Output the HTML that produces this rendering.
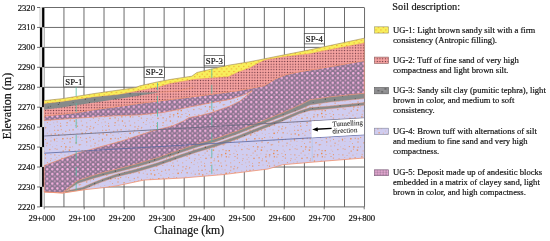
<!DOCTYPE html>
<html><head><meta charset="utf-8"><title>Soil profile</title>
<style>html,body{margin:0;padding:0;background:#fff}svg{display:block}text{stroke:#111;stroke-width:0.18px}</style></head>
<body>
<svg width="550" height="241" viewBox="0 0 550 241" font-family="'Liberation Serif', serif">
<defs>
<pattern id="pUG2" width="2.72" height="2.72" patternUnits="userSpaceOnUse" x="0.5" y="0.3">
 <rect width="2.72" height="2.72" fill="#f8a4a2"/>
 <rect x="0.8" y="0.8" width="1.15" height="1.15" fill="#6a3540"/>
</pattern>
<pattern id="pUG5" width="5.1" height="4.8" patternUnits="userSpaceOnUse">
 <rect width="5.1" height="4.8" fill="#8b7590"/>
 <ellipse cx="1.28" cy="1.2" rx="1.1" ry="1.35" fill="#f9b2e2"/>
 <ellipse cx="3.83" cy="3.6" rx="0.9" ry="1.05" fill="#e2a2ce"/>
</pattern>
<pattern id="pUG5s" width="2.9" height="2.6" patternUnits="userSpaceOnUse" x="374.6" y="169.9">
 <rect width="2.9" height="2.6" fill="#a87f9f"/>
 <ellipse cx="1.45" cy="1.3" rx="1.05" ry="1.0" fill="#f6b4e0"/>
</pattern>
<pattern id="pUG3s" width="14" height="6.3" patternUnits="userSpaceOnUse" x="374.5" y="87.5">
 <rect width="14" height="6.3" fill="#8e8e90"/>
 <rect x="3.4" y="2.8" width="1" height="1" fill="#1a1a1a"/><rect x="7.2" y="3.9" width="1" height="1" fill="#1a1a1a"/><rect x="10.4" y="1" width="1.1" height="1" fill="#1a1a1a"/>
 <rect x="5" y="1.2" width="2.5" height="0.6" fill="#a6a6a8"/><rect x="9" y="3.2" width="2.6" height="0.6" fill="#a6a6a8"/>
</pattern>
<pattern id="pUG4" width="48" height="40" patternUnits="userSpaceOnUse">
 <rect width="48" height="40" fill="#d0cdf0"/>
 <rect x="2.0" y="0.2" width="0.91" height="0.91" fill="#e98a50" fill-opacity="0.70"/><rect x="1.6" y="4.1" width="0.84" height="0.84" fill="#e98a50" fill-opacity="0.63"/><rect x="1.3" y="10.6" width="0.86" height="0.86" fill="#e98a50" fill-opacity="0.43"/><rect x="2.6" y="13.6" width="1.24" height="1.24" fill="#e98a50" fill-opacity="0.61"/><rect x="2.7" y="16.9" width="0.83" height="0.83" fill="#e98a50" fill-opacity="0.44"/><rect x="2.4" y="20.5" width="1.02" height="1.02" fill="#e98a50" fill-opacity="0.73"/><rect x="1.6" y="24.2" width="1.06" height="1.06" fill="#e98a50" fill-opacity="0.39"/><rect x="1.2" y="28.9" width="1.28" height="1.28" fill="#e98a50" fill-opacity="0.73"/><rect x="2.4" y="34.1" width="1.01" height="1.01" fill="#e98a50" fill-opacity="0.51"/><rect x="2.5" y="38.1" width="1.17" height="1.17" fill="#e98a50" fill-opacity="0.54"/><rect x="5.3" y="2.4" width="0.88" height="0.88" fill="#e98a50" fill-opacity="0.45"/><rect x="6.1" y="6.4" width="0.83" height="0.83" fill="#e98a50" fill-opacity="0.72"/><rect x="6.1" y="9.8" width="1.02" height="1.02" fill="#e98a50" fill-opacity="0.73"/><rect x="6.5" y="13.2" width="1.39" height="1.39" fill="#e98a50" fill-opacity="0.78"/><rect x="5.8" y="18.7" width="1.29" height="1.29" fill="#e98a50" fill-opacity="0.88"/><rect x="6.0" y="20.1" width="1.07" height="1.07" fill="#e98a50" fill-opacity="0.65"/><rect x="4.2" y="26.4" width="0.88" height="0.88" fill="#e98a50" fill-opacity="0.43"/><rect x="6.6" y="28.2" width="1.07" height="1.07" fill="#e98a50" fill-opacity="0.64"/><rect x="6.1" y="34.2" width="1.42" height="1.42" fill="#e98a50" fill-opacity="0.53"/><rect x="6.6" y="38.8" width="1.05" height="1.05" fill="#e98a50" fill-opacity="0.45"/><rect x="8.7" y="1.5" width="0.96" height="0.96" fill="#e98a50" fill-opacity="0.73"/><rect x="9.3" y="5.2" width="0.80" height="0.80" fill="#e98a50" fill-opacity="0.72"/><rect x="9.4" y="9.7" width="1.28" height="1.28" fill="#e98a50" fill-opacity="0.79"/><rect x="10.0" y="14.2" width="1.43" height="1.43" fill="#e98a50" fill-opacity="0.87"/><rect x="8.3" y="17.9" width="1.08" height="1.08" fill="#e98a50" fill-opacity="0.39"/><rect x="8.5" y="21.0" width="0.95" height="0.95" fill="#e98a50" fill-opacity="0.38"/><rect x="8.3" y="25.1" width="0.91" height="0.91" fill="#e98a50" fill-opacity="0.37"/><rect x="8.4" y="28.7" width="1.23" height="1.23" fill="#e98a50" fill-opacity="0.58"/><rect x="10.6" y="35.1" width="0.89" height="0.89" fill="#e98a50" fill-opacity="0.65"/><rect x="8.3" y="37.1" width="0.86" height="0.86" fill="#e98a50" fill-opacity="0.52"/><rect x="12.1" y="2.9" width="0.91" height="0.91" fill="#e98a50" fill-opacity="0.69"/><rect x="12.1" y="5.5" width="1.18" height="1.18" fill="#e98a50" fill-opacity="0.99"/><rect x="12.7" y="9.0" width="1.29" height="1.29" fill="#e98a50" fill-opacity="0.46"/><rect x="14.2" y="12.9" width="1.17" height="1.17" fill="#e98a50" fill-opacity="0.49"/><rect x="14.1" y="18.0" width="1.49" height="1.49" fill="#e98a50" fill-opacity="0.88"/><rect x="13.6" y="21.1" width="0.96" height="0.96" fill="#e98a50" fill-opacity="0.37"/><rect x="12.8" y="26.1" width="1.00" height="1.00" fill="#e98a50" fill-opacity="0.97"/><rect x="14.5" y="30.4" width="1.46" height="1.46" fill="#e98a50" fill-opacity="0.59"/><rect x="12.6" y="32.6" width="0.96" height="0.96" fill="#e98a50" fill-opacity="0.76"/><rect x="13.3" y="37.7" width="1.39" height="1.39" fill="#e98a50" fill-opacity="0.87"/><rect x="18.5" y="2.1" width="1.26" height="1.26" fill="#e98a50" fill-opacity="0.84"/><rect x="18.4" y="5.0" width="0.92" height="0.92" fill="#e98a50" fill-opacity="0.87"/><rect x="17.2" y="10.8" width="1.08" height="1.08" fill="#e98a50" fill-opacity="0.82"/><rect x="16.5" y="14.8" width="0.89" height="0.89" fill="#e98a50" fill-opacity="0.87"/><rect x="18.6" y="17.7" width="1.38" height="1.38" fill="#e98a50" fill-opacity="0.58"/><rect x="16.0" y="23.0" width="0.89" height="0.89" fill="#e98a50" fill-opacity="0.77"/><rect x="17.1" y="26.2" width="1.45" height="1.45" fill="#e98a50" fill-opacity="0.89"/><rect x="16.9" y="28.7" width="0.98" height="0.98" fill="#e98a50" fill-opacity="0.73"/><rect x="16.4" y="34.6" width="1.09" height="1.09" fill="#e98a50" fill-opacity="0.58"/><rect x="18.5" y="37.2" width="1.21" height="1.21" fill="#e98a50" fill-opacity="0.95"/><rect x="21.5" y="0.1" width="1.17" height="1.17" fill="#e98a50" fill-opacity="0.64"/><rect x="22.6" y="4.6" width="0.80" height="0.80" fill="#e98a50" fill-opacity="0.66"/><rect x="20.9" y="9.5" width="1.19" height="1.19" fill="#e98a50" fill-opacity="0.71"/><rect x="21.8" y="12.8" width="0.87" height="0.87" fill="#e98a50" fill-opacity="0.53"/><rect x="21.6" y="18.2" width="1.16" height="1.16" fill="#e98a50" fill-opacity="0.94"/><rect x="21.4" y="21.4" width="1.23" height="1.23" fill="#e98a50" fill-opacity="0.80"/><rect x="21.4" y="26.7" width="1.17" height="1.17" fill="#e98a50" fill-opacity="0.80"/><rect x="20.7" y="29.4" width="1.46" height="1.46" fill="#e98a50" fill-opacity="0.96"/><rect x="20.4" y="33.4" width="0.90" height="0.90" fill="#e98a50" fill-opacity="0.40"/><rect x="22.1" y="38.5" width="0.85" height="0.85" fill="#e98a50" fill-opacity="0.93"/><rect x="25.8" y="0.4" width="1.30" height="1.30" fill="#e98a50" fill-opacity="0.92"/><rect x="26.9" y="5.2" width="0.95" height="0.95" fill="#e98a50" fill-opacity="0.67"/><rect x="24.4" y="9.1" width="1.38" height="1.38" fill="#e98a50" fill-opacity="0.69"/><rect x="25.0" y="14.2" width="0.94" height="0.94" fill="#e98a50" fill-opacity="0.36"/><rect x="24.1" y="17.0" width="1.11" height="1.11" fill="#e98a50" fill-opacity="0.76"/><rect x="27.1" y="22.5" width="0.85" height="0.85" fill="#e98a50" fill-opacity="0.98"/><rect x="24.1" y="26.3" width="0.99" height="0.99" fill="#e98a50" fill-opacity="0.53"/><rect x="26.6" y="30.4" width="1.10" height="1.10" fill="#e98a50" fill-opacity="0.52"/><rect x="25.5" y="33.8" width="1.44" height="1.44" fill="#e98a50" fill-opacity="0.41"/><rect x="25.2" y="36.2" width="1.28" height="1.28" fill="#e98a50" fill-opacity="0.96"/><rect x="28.2" y="2.3" width="1.36" height="1.36" fill="#e98a50" fill-opacity="0.39"/><rect x="29.0" y="5.6" width="1.12" height="1.12" fill="#e98a50" fill-opacity="0.95"/><rect x="29.6" y="8.7" width="0.89" height="0.89" fill="#e98a50" fill-opacity="0.42"/><rect x="28.6" y="13.0" width="0.84" height="0.84" fill="#e98a50" fill-opacity="0.55"/><rect x="29.5" y="16.5" width="1.00" height="1.00" fill="#e98a50" fill-opacity="0.58"/><rect x="28.0" y="22.2" width="0.98" height="0.98" fill="#e98a50" fill-opacity="0.71"/><rect x="30.7" y="24.3" width="1.13" height="1.13" fill="#e98a50" fill-opacity="0.88"/><rect x="30.4" y="29.1" width="1.15" height="1.15" fill="#e98a50" fill-opacity="0.68"/><rect x="28.9" y="34.1" width="1.49" height="1.49" fill="#e98a50" fill-opacity="0.81"/><rect x="29.0" y="36.2" width="1.08" height="1.08" fill="#e98a50" fill-opacity="0.43"/><rect x="32.7" y="0.4" width="1.32" height="1.32" fill="#e98a50" fill-opacity="0.40"/><rect x="33.7" y="4.7" width="1.41" height="1.41" fill="#e98a50" fill-opacity="0.51"/><rect x="32.5" y="9.3" width="1.12" height="1.12" fill="#e98a50" fill-opacity="0.52"/><rect x="33.4" y="12.6" width="1.48" height="1.48" fill="#e98a50" fill-opacity="0.98"/><rect x="32.0" y="17.1" width="1.05" height="1.05" fill="#e98a50" fill-opacity="0.66"/><rect x="33.5" y="20.0" width="0.94" height="0.94" fill="#e98a50" fill-opacity="0.52"/><rect x="32.1" y="24.1" width="1.08" height="1.08" fill="#e98a50" fill-opacity="0.55"/><rect x="33.5" y="30.1" width="1.21" height="1.21" fill="#e98a50" fill-opacity="0.78"/><rect x="33.0" y="32.8" width="1.42" height="1.42" fill="#e98a50" fill-opacity="0.99"/><rect x="33.7" y="36.1" width="1.31" height="1.31" fill="#e98a50" fill-opacity="0.89"/><rect x="38.0" y="2.2" width="1.24" height="1.24" fill="#e98a50" fill-opacity="0.44"/><rect x="38.4" y="6.3" width="1.15" height="1.15" fill="#e98a50" fill-opacity="0.89"/><rect x="37.8" y="9.8" width="1.42" height="1.42" fill="#e98a50" fill-opacity="0.50"/><rect x="37.1" y="12.3" width="0.89" height="0.89" fill="#e98a50" fill-opacity="0.89"/><rect x="37.7" y="17.9" width="1.24" height="1.24" fill="#e98a50" fill-opacity="0.67"/><rect x="38.0" y="21.3" width="1.36" height="1.36" fill="#e98a50" fill-opacity="0.70"/><rect x="38.3" y="24.8" width="0.85" height="0.85" fill="#e98a50" fill-opacity="0.40"/><rect x="36.6" y="30.0" width="1.31" height="1.31" fill="#e98a50" fill-opacity="0.98"/><rect x="37.4" y="34.0" width="1.07" height="1.07" fill="#e98a50" fill-opacity="0.85"/><rect x="36.2" y="36.4" width="1.25" height="1.25" fill="#e98a50" fill-opacity="0.52"/><rect x="41.7" y="0.0" width="1.01" height="1.01" fill="#e98a50" fill-opacity="0.39"/><rect x="41.9" y="5.8" width="1.27" height="1.27" fill="#e98a50" fill-opacity="0.54"/><rect x="41.3" y="8.3" width="1.13" height="1.13" fill="#e98a50" fill-opacity="0.93"/><rect x="42.4" y="12.0" width="1.48" height="1.48" fill="#e98a50" fill-opacity="0.65"/><rect x="41.1" y="16.7" width="1.48" height="1.48" fill="#e98a50" fill-opacity="0.49"/><rect x="41.8" y="20.4" width="0.95" height="0.95" fill="#e98a50" fill-opacity="0.69"/><rect x="42.5" y="25.6" width="0.89" height="0.89" fill="#e98a50" fill-opacity="0.93"/><rect x="42.7" y="29.5" width="0.96" height="0.96" fill="#e98a50" fill-opacity="0.37"/><rect x="41.3" y="32.9" width="1.14" height="1.14" fill="#e98a50" fill-opacity="0.44"/><rect x="42.5" y="36.0" width="1.02" height="1.02" fill="#e98a50" fill-opacity="0.84"/><rect x="46.9" y="2.2" width="0.88" height="0.88" fill="#e98a50" fill-opacity="0.94"/><rect x="45.2" y="6.9" width="1.06" height="1.06" fill="#e98a50" fill-opacity="0.73"/><rect x="44.8" y="8.1" width="1.10" height="1.10" fill="#e98a50" fill-opacity="0.42"/><rect x="46.8" y="12.7" width="1.00" height="1.00" fill="#e98a50" fill-opacity="0.52"/><rect x="45.1" y="18.9" width="0.93" height="0.93" fill="#e98a50" fill-opacity="0.92"/><rect x="46.5" y="22.6" width="1.24" height="1.24" fill="#e98a50" fill-opacity="0.71"/><rect x="46.3" y="25.4" width="0.83" height="0.83" fill="#e98a50" fill-opacity="0.84"/><rect x="44.1" y="30.8" width="1.00" height="1.00" fill="#e98a50" fill-opacity="0.43"/><rect x="44.9" y="34.2" width="1.04" height="1.04" fill="#e98a50" fill-opacity="0.98"/><rect x="44.8" y="37.5" width="1.26" height="1.26" fill="#e98a50" fill-opacity="0.61"/>
</pattern>
<pattern id="pUG3" width="30" height="12" patternUnits="userSpaceOnUse">
 <rect width="30" height="12" fill="#868a8a"/>
 <rect x="4.4" y="2.9" width="0.80" height="0.80" fill="#222" fill-opacity="1.00"/><rect x="4.3" y="4.3" width="0.66" height="0.66" fill="#222" fill-opacity="0.67"/><rect x="9.6" y="9.3" width="0.95" height="0.95" fill="#222" fill-opacity="0.71"/><rect x="12.3" y="0.2" width="0.75" height="0.75" fill="#222" fill-opacity="0.64"/><rect x="12.8" y="6.1" width="0.65" height="0.65" fill="#222" fill-opacity="0.93"/><rect x="17.8" y="10.7" width="0.78" height="0.78" fill="#222" fill-opacity="0.94"/><rect x="20.1" y="9.8" width="0.96" height="0.96" fill="#222" fill-opacity="0.50"/><rect x="24.8" y="2.6" width="0.97" height="0.97" fill="#222" fill-opacity="0.99"/><rect x="29.0" y="6.3" width="0.87" height="0.87" fill="#222" fill-opacity="0.82"/><rect x="27.9" y="8.1" width="0.78" height="0.78" fill="#222" fill-opacity="0.89"/>
</pattern>
<pattern id="pUG1" width="4.9" height="5.2" patternUnits="userSpaceOnUse">
 <rect width="4.9" height="5.2" fill="#f8f05c"/>
 <rect x="0.7" y="0.8" width="1.1" height="1.1" fill="#f0942a"/>
 <rect x="3.15" y="3.4" width="1.1" height="1.1" fill="#f0942a"/>
</pattern>
</defs>
<rect width="550" height="241" fill="#fff"/>
<path d="M43.90 7.5 V206.9 M63.94 7.5 V206.9 M83.98 7.5 V206.9 M104.02 7.5 V206.9 M124.06 7.5 V206.9 M144.10 7.5 V206.9 M164.14 7.5 V206.9 M184.18 7.5 V206.9 M204.22 7.5 V206.9 M224.26 7.5 V206.9 M244.30 7.5 V206.9 M264.34 7.5 V206.9 M284.38 7.5 V206.9 M304.42 7.5 V206.9 M324.46 7.5 V206.9 M344.50 7.5 V206.9 M364.54 7.5 V206.9 M44.2 7.50 H364.2 M44.2 27.44 H364.2 M44.2 47.38 H364.2 M44.2 67.32 H364.2 M44.2 87.26 H364.2 M44.2 107.20 H364.2 M44.2 127.14 H364.2 M44.2 147.08 H364.2 M44.2 167.02 H364.2 M44.2 186.96 H364.2 M44.2 206.90 H364.2" stroke="#505050" stroke-width="0.85" fill="none"/>
<rect x="39.9" y="7.50" width="2.2" height="19.94" fill="#e4e4e4" stroke="#999" stroke-width="0.3"/>
<rect x="42.1" y="7.50" width="2.1" height="19.94" fill="#000"/>
<rect x="42.1" y="27.44" width="2.1" height="19.94" fill="#e4e4e4" stroke="#999" stroke-width="0.3"/>
<rect x="39.9" y="27.44" width="2.2" height="19.94" fill="#000"/>
<rect x="39.9" y="47.38" width="2.2" height="19.94" fill="#e4e4e4" stroke="#999" stroke-width="0.3"/>
<rect x="42.1" y="47.38" width="2.1" height="19.94" fill="#000"/>
<rect x="42.1" y="67.32" width="2.1" height="19.94" fill="#e4e4e4" stroke="#999" stroke-width="0.3"/>
<rect x="39.9" y="67.32" width="2.2" height="19.94" fill="#000"/>
<rect x="39.9" y="87.26" width="2.2" height="19.94" fill="#e4e4e4" stroke="#999" stroke-width="0.3"/>
<rect x="42.1" y="87.26" width="2.1" height="19.94" fill="#000"/>
<rect x="42.1" y="107.20" width="2.1" height="19.94" fill="#e4e4e4" stroke="#999" stroke-width="0.3"/>
<rect x="39.9" y="107.20" width="2.2" height="19.94" fill="#000"/>
<rect x="39.9" y="127.14" width="2.2" height="19.94" fill="#e4e4e4" stroke="#999" stroke-width="0.3"/>
<rect x="42.1" y="127.14" width="2.1" height="19.94" fill="#000"/>
<rect x="42.1" y="147.08" width="2.1" height="19.94" fill="#e4e4e4" stroke="#999" stroke-width="0.3"/>
<rect x="39.9" y="147.08" width="2.2" height="19.94" fill="#000"/>
<rect x="39.9" y="167.02" width="2.2" height="19.94" fill="#e4e4e4" stroke="#999" stroke-width="0.3"/>
<rect x="42.1" y="167.02" width="2.1" height="19.94" fill="#000"/>
<rect x="42.1" y="186.96" width="2.1" height="19.94" fill="#e4e4e4" stroke="#999" stroke-width="0.3"/>
<rect x="39.9" y="186.96" width="2.2" height="19.94" fill="#000"/>
<path d="M37 7.50 H40 M37 27.44 H40 M37 47.38 H40 M37 67.32 H40 M37 87.26 H40 M37 107.20 H40 M37 127.14 H40 M37 147.08 H40 M37 167.02 H40 M37 186.96 H40 M37 206.90 H40 M44.2 206.9 V209.3 M84.2 206.9 V209.3 M124.2 206.9 V209.3 M164.2 206.9 V209.3 M204.2 206.9 V209.3 M244.2 206.9 V209.3 M284.2 206.9 V209.3 M324.2 206.9 V209.3 M364.2 206.9 V209.3" stroke="#333" stroke-width="0.7" fill="none"/>
<polygon points="44.2,100.6 62.0,98.7 76.0,96.5 94.5,93.5 117.8,90.2 130.0,88.4 136.0,87.5 140.0,85.8 157.5,81.9 170.0,79.5 191.8,76.2 196.9,72.5 212.2,68.9 228.2,65.3 250.0,61.7 286.0,54.5 310.0,49.8 364.2,38.2 364.2,158.0 326.0,161.0 282.7,164.7 268.0,169.0 224.0,174.5 182.6,178.0 144.2,180.0 116.0,186.0 104.5,187.5 84.0,189.8 63.0,193.0 44.2,192.0" fill="url(#pUG4)"/>
<polygon points="44.2,116.0 62.0,114.2 76.0,112.6 100.0,108.7 120.0,106.2 140.0,103.2 160.0,100.8 180.0,98.3 196.0,96.3 237.5,90.7 264.5,85.6 276.0,78.5 286.0,74.6 300.0,71.6 317.5,68.8 364.2,60.6 364.2,93.4 330.0,97.0 310.0,100.0 300.0,105.0 280.0,114.0 258.2,122.8 237.5,131.0 216.7,138.4 196.0,144.5 178.0,150.6 157.5,157.8 136.7,164.0 116.0,169.5 105.7,172.0 92.5,175.8 77.6,180.7 63.0,192.5 63.0,193.0 44.2,192.0 44.2,165.5 77.5,153.0 100.0,146.9 121.8,140.9 143.6,133.8 150.9,131.3 161.8,128.5 172.7,125.8 183.6,120.9 189.0,117.6 200.0,115.6 210.0,113.0 230.0,106.0 240.0,101.0 252.0,91.3 252.0,90.7 244.0,95.0 230.0,99.4 210.0,103.0 190.0,107.0 176.0,110.0 161.8,112.7 140.0,114.9 116.0,115.8 80.0,118.0 44.2,120.5" fill="url(#pUG5)" stroke="#f0916e" stroke-width="0.7"/>
<polygon points="44.2,103.4 62.0,101.6 76.0,99.4 94.5,96.8 117.8,94.6 130.0,92.3 140.0,90.3 157.5,87.0 170.0,83.3 194.7,79.1 213.6,77.6 228.2,76.6 238.4,71.8 250.0,67.5 258.0,63.0 265.0,59.8 284.0,56.4 310.0,53.4 320.0,51.3 364.2,42.8 364.2,60.6 317.5,68.8 300.0,71.6 286.0,74.6 276.0,78.5 264.5,85.6 237.5,90.7 196.0,96.3 180.0,98.3 160.0,100.8 140.0,103.2 120.0,106.2 100.0,108.7 76.0,112.6 62.0,114.2 44.2,116.0" fill="url(#pUG2)" stroke="#f0916e" stroke-width="0.6"/>
<polygon points="63.0,192.5 77.6,180.7 92.5,175.8 105.7,172.0 116.0,169.5 136.7,164.0 157.5,157.8 178.0,150.6 196.0,144.5 216.7,138.4 237.5,131.0 258.2,122.8 280.0,114.0 300.0,105.0 310.0,100.0 330.0,97.0 364.2,93.4 364.2,98.6 330.0,102.1 310.0,105.0 300.0,109.4 280.0,117.2 258.2,125.8 237.5,134.0 216.7,141.4 196.0,147.5 178.0,153.6 157.5,160.8 136.7,167.0 116.0,172.5 105.7,175.0 92.5,178.8 77.6,183.6 63.0,192.8" fill="url(#pUG3)" stroke="#f0916e" stroke-width="0.4"/>
<polygon points="65.0,191.3 82.5,187.2 94.0,182.2 105.7,177.8 116.0,174.3 136.7,168.9 157.5,162.7 178.0,155.5 196.0,149.4 216.7,143.3 237.5,135.9 258.2,127.7 280.0,119.3 300.0,110.8 310.0,107.6 330.0,106.0 364.2,102.6 364.2,105.2 330.0,108.8 310.0,110.5 300.0,113.5 280.0,122.2 258.2,130.7 237.5,138.9 216.7,146.3 196.0,152.4 178.0,158.5 157.5,165.7 136.7,171.9 116.0,177.1 105.7,180.5 94.0,184.9 83.7,189.6 65.0,192.6" fill="url(#pUG3)" stroke="#f0916e" stroke-width="0.4"/>
<polygon points="44.2,103.4 62.0,101.6 76.0,99.4 94.5,96.8 117.8,94.6 130.0,92.8 140.0,92.6 160.0,92.2 140.0,95.4 117.8,99.0 94.5,102.5 76.0,105.2 62.0,107.5 44.2,109.8" fill="url(#pUG3)"/>
<polygon points="44.2,100.6 62.0,98.7 76.0,96.5 94.5,93.5 117.8,90.2 130.0,88.4 136.0,87.5 140.0,85.8 157.5,81.9 170.0,79.5 191.8,76.2 196.9,72.5 212.2,68.9 228.2,65.3 250.0,61.7 286.0,54.5 310.0,49.8 364.2,38.2 364.2,42.8 320.0,51.3 310.0,53.4 284.0,56.4 265.0,59.8 258.0,63.0 250.0,67.5 238.4,71.8 228.2,76.6 213.6,77.6 194.7,79.1 170.0,83.3 157.5,87.0 140.0,90.3 130.0,92.3 117.8,94.6 94.5,96.8 76.0,99.4 62.0,101.6 44.2,103.4" fill="url(#pUG1)" stroke="#f0b040" stroke-width="0.3"/>
<polyline points="44.2,192.0 63.0,193.0 84.0,189.8 104.5,187.5 116.0,186.0 144.2,180.0 182.6,178.0 224.0,174.5 268.0,169.0 282.7,164.7 326.0,161.0 364.2,158.0" fill="none" stroke="#f0916e" stroke-width="0.8"/>
<polyline points="44.2,100.6 62.0,98.7 76.0,96.5 94.5,93.5 117.8,90.2 130.0,88.4 136.0,87.5 140.0,85.8 157.5,81.9 170.0,79.5 191.8,76.2 196.9,72.5 212.2,68.9 228.2,65.3 250.0,61.7 286.0,54.5 310.0,49.8 364.2,38.2" fill="none" stroke="#77775f" stroke-opacity="0.75" stroke-width="0.5"/>
<polyline points="160,92.2 180,90.6 194,87" fill="none" stroke="#f0916e" stroke-width="0.6"/>
<path d="M44.2 136 L364.2 118" stroke="#66667e" stroke-width="0.8" fill="none"/>
<path d="M44.2 153.2 L364.2 134.8" stroke="#5866a0" stroke-width="0.8" fill="none"/>
<path d="M76.2 87 V190.5" stroke="#56bda3" stroke-opacity="0.85" stroke-width="0.95" stroke-dasharray="9.1 6.9" fill="none"/>
<path d="M157.5 77.4 V129.6" stroke="#56bda3" stroke-opacity="0.85" stroke-width="0.95" stroke-dasharray="7.6 5.5" stroke-dashoffset="7.8" fill="none"/>
<path d="M211.8 66 V175" stroke="#56bda3" stroke-opacity="0.85" stroke-width="0.95" stroke-dasharray="9.1 6.9" stroke-dashoffset="13.3" fill="none"/>
<path d="M312.2 136.5 V161" stroke="#a9c6e6" stroke-width="0.6" fill="none"/>
<rect x="63.7" y="76.5" width="20.2" height="10.4" fill="#fff" stroke="#444" stroke-width="0.7"/>
<text x="73.8" y="84.9" font-size="8.8" text-anchor="middle" fill="#111" stroke="#111" stroke-width="0.3">SP-1</text>
<rect x="144.2" y="67.0" width="20.2" height="10.4" fill="#fff" stroke="#444" stroke-width="0.7"/>
<text x="154.3" y="75.4" font-size="8.8" text-anchor="middle" fill="#111" stroke="#111" stroke-width="0.3">SP-2</text>
<rect x="204.2" y="55.5" width="20.2" height="10.4" fill="#fff" stroke="#444" stroke-width="0.7"/>
<text x="214.3" y="63.9" font-size="8.8" text-anchor="middle" fill="#111" stroke="#111" stroke-width="0.3">SP-3</text>
<rect x="304.3" y="33.5" width="20.2" height="10.4" fill="#fff" stroke="#444" stroke-width="0.7"/>
<text x="314.4" y="41.9" font-size="8.8" text-anchor="middle" fill="#111" stroke="#111" stroke-width="0.3">SP-4</text>
<polygon points="311.6,121.2 364,118.2 364,134.6 311.6,137.6" fill="#fff"/>
<text transform="translate(332.4,126.5) rotate(-3.1)" font-size="7.05" fill="#333" style="stroke:#333;stroke-width:0.1px">Tunnelling</text>
<text transform="translate(332.4,133.5) rotate(-3.1)" font-size="7.05" fill="#333" style="stroke:#333;stroke-width:0.1px">direction</text>
<path d="M331.6 128.4 L316 129.3" stroke="#000" stroke-width="1.4" fill="none"/>
<polygon points="312.2,129.5 317.6,127.2 317.9,131.4" fill="#000"/>
<text x="35" y="10.5" font-size="8.7" text-anchor="end" fill="#111">2320</text>
<text x="35" y="30.4" font-size="8.7" text-anchor="end" fill="#111">2310</text>
<text x="35" y="50.4" font-size="8.7" text-anchor="end" fill="#111">2300</text>
<text x="35" y="70.3" font-size="8.7" text-anchor="end" fill="#111">2290</text>
<text x="35" y="90.3" font-size="8.7" text-anchor="end" fill="#111">2280</text>
<text x="35" y="110.2" font-size="8.7" text-anchor="end" fill="#111">2270</text>
<text x="35" y="130.1" font-size="8.7" text-anchor="end" fill="#111">2260</text>
<text x="35" y="150.1" font-size="8.7" text-anchor="end" fill="#111">2250</text>
<text x="35" y="170.0" font-size="8.7" text-anchor="end" fill="#111">2240</text>
<text x="35" y="190.0" font-size="8.7" text-anchor="end" fill="#111">2230</text>
<text x="35" y="209.9" font-size="8.7" text-anchor="end" fill="#111">2220</text>
<text x="41.9" y="220.5" font-size="8.7" text-anchor="middle" fill="#111">29+000</text>
<text x="81.9" y="220.5" font-size="8.7" text-anchor="middle" fill="#111">29+100</text>
<text x="121.9" y="220.5" font-size="8.7" text-anchor="middle" fill="#111">29+200</text>
<text x="161.9" y="220.5" font-size="8.7" text-anchor="middle" fill="#111">29+300</text>
<text x="201.9" y="220.5" font-size="8.7" text-anchor="middle" fill="#111">29+400</text>
<text x="241.9" y="220.5" font-size="8.7" text-anchor="middle" fill="#111">29+500</text>
<text x="281.9" y="220.5" font-size="8.7" text-anchor="middle" fill="#111">29+600</text>
<text x="321.9" y="220.5" font-size="8.7" text-anchor="middle" fill="#111">29+700</text>
<text x="361.9" y="220.5" font-size="8.7" text-anchor="middle" fill="#111">29+800</text>
<text x="189.1" y="234.3" font-size="11.75" text-anchor="middle" fill="#111">Chainage (km)</text>
<text transform="translate(11.3,106) rotate(-90)" font-size="12" text-anchor="middle" fill="#111">Elevation (m)</text>
<text x="392.3" y="9.8" font-size="10.3" fill="#111">Soil description:</text>
<rect x="374.5" y="26.8" width="14" height="6.3" fill="url(#pUG1)" stroke="#9a9a70" stroke-width="0.6"/>
<text x="393" y="33" font-size="8.62" fill="#111">UG-1: Light brown sandy silt with a firm</text>
<text x="393" y="42.7" font-size="8.62" fill="#111">consistency (Antropic filling).</text>
<rect x="374.5" y="57.1" width="14" height="6.3" fill="url(#pUG2)" stroke="#8a5a5a" stroke-width="0.6"/>
<text x="393" y="63" font-size="8.62" fill="#111">UG-2: Tuff of fine sand of very high</text>
<text x="393" y="72.8" font-size="8.62" fill="#111">compactness and light brown silt.</text>
<rect x="374.5" y="87.5" width="14" height="6.3" fill="url(#pUG3s)" stroke="#555" stroke-width="0.6"/>
<text x="393" y="93.3" font-size="8.62" fill="#111">UG-3: Sandy silt clay (pumitic tephra), light</text>
<text x="393" y="103.2" font-size="8.62" fill="#111">brown in color, and medium to soft</text>
<text x="393" y="113" font-size="8.62" fill="#111">consistency.</text>
<rect x="374.5" y="128.2" width="14" height="6.3" fill="url(#pUG4)" stroke="#80849c" stroke-width="0.6"/>
<text x="393" y="134.1" font-size="8.62" fill="#111">UG-4: Brown tuff with alternations of silt</text>
<text x="393" y="144.1" font-size="8.62" fill="#111">and medium to fine sand and very high</text>
<text x="393" y="154" font-size="8.62" fill="#111">compactness.</text>
<rect x="374.5" y="169.8" width="14" height="5.9" fill="url(#pUG5s)" stroke="#7a5a78" stroke-width="0.6"/>
<text x="393" y="175" font-size="8.62" fill="#111">UG-5: Deposit made up of andesitic blocks</text>
<text x="393" y="185.1" font-size="8.62" fill="#111">embedded in a matrix of clayey sand, light</text>
<text x="393" y="195.2" font-size="8.62" fill="#111">brown in color, and high compactness.</text>
</svg>
</body></html>
